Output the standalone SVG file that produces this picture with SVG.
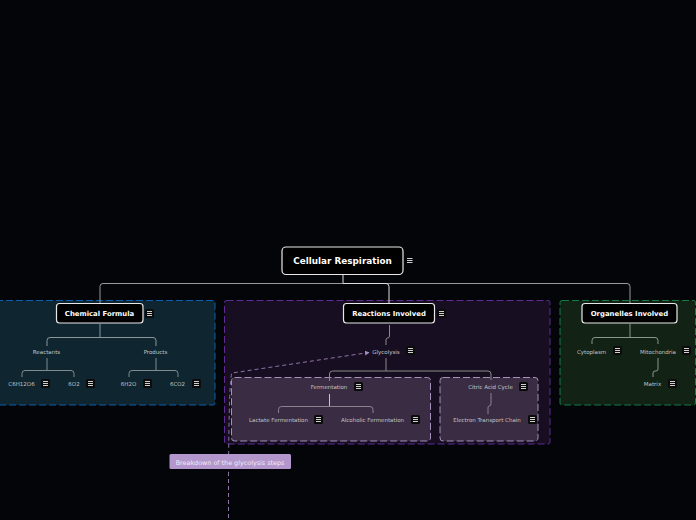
<svg xmlns="http://www.w3.org/2000/svg" width="696" height="520" viewBox="0 0 696 520">
<style>
text{font-family:"DejaVu Sans",Verdana,sans-serif;text-anchor:middle}
.m{fill:#000;stroke:#e8e8e8;stroke-width:1.2}
.mt{font-weight:700;font-size:6.9px;fill:#fff}
.st{font-size:5.5px;fill:#c4c4c4}
.c{fill:none;stroke-width:1}
.ib{fill:#0c0c0c}
.il{stroke:#e6e6e6;stroke-width:.9}
</style>
<defs>
<g id="i"><rect class="ib" x="-4.5" y="-4.5" width="9" height="9" rx="1.5"/><path class="il" d="M-2.500-2H2.500M-2.500 0H2.500M-2.500 2H2.500"/></g>
<marker id="a" markerWidth="6" markerHeight="6" refX="4" refY="2.500" orient="auto" markerUnits="userSpaceOnUse"><path d="M0 0L4.500 2.500L0 5Z" fill="#a98bc0"/></marker>
</defs>
<rect width="696" height="520" fill="#030508"/>
<g id="boundaries">
<rect x="-6" y="300.500" width="221" height="104.500" rx="2" fill="#0f2630" stroke="#0a5fae" stroke-dasharray="7 3"/>
<rect x="224.500" y="300.500" width="325.500" height="143.500" rx="2" fill="#170e22" stroke="#5f2a96" stroke-dasharray="7 3"/>
<rect x="560" y="300.500" width="135.500" height="104.500" rx="2" fill="#122316" stroke="#157a48" stroke-dasharray="7 3"/>
<rect x="231.500" y="377.500" width="199" height="63.500" rx="3" fill="#392c43" stroke="#a78fbc" stroke-dasharray="7 3"/>
<rect x="440" y="377.500" width="98" height="63.500" rx="3" fill="#392c43" stroke="#a78fbc" stroke-dasharray="7 3"/>
</g>
<g id="connectors">
<path class="c" stroke="#9a9a9a" d="M342.500 283.500H103Q100 283.500 100 286.500V304"/>
<path class="c" stroke="#9a9a9a" d="M342.500 283.500H627Q630 283.500 630 286.500V304"/>
<path class="c" stroke="#dcdcdc" stroke-width="1.500" d="M343 274V283.500H386Q389 283.500 389 286.500V303"/>
<path class="c" stroke="#8a969b" d="M100 324V337.500M47 346V340.500Q47 337.500 50 337.500H153Q156 337.500 156 340.500V346"/>
<path class="c" stroke="#7f8b90" d="M47 358V370.500M22 377V373.500Q22 370.500 25 370.500H71Q74 370.500 74 373.500V377"/>
<path class="c" stroke="#7f8b90" d="M156 358V370.500M129 377V373.500Q129 370.500 132 370.500H175Q178 370.500 178 373.500V377"/>
<path class="c" stroke="#8b8b8b" d="M389.500 325V336Q389.500 338 387.500 338Q386 338 386 340V345"/>
<path class="c" stroke="#8b8b8b" d="M386 358V371"/>
<path class="c" stroke="#8b8b8b" d="M329.500 381V374Q329.500 371 332.500 371H488Q491 371 491 374V380"/>
<path class="c" stroke="#c8c8c8" d="M329.500 394V406.500"/>
<path class="c" stroke="#8b8291" d="M278.500 413V409.500Q278.500 406.500 281.500 406.500H370Q373 406.500 373 409.500V413"/>
<path class="c" stroke="#8b8291" d="M491 393V404Q491 406 489 406Q488 406 488 408V414"/>
<path class="c" stroke="#8a968c" d="M630 324V337.500M592 344V340.500Q592 337.500 595 337.500H655Q658 337.500 658 340.500V344"/>
<path class="c" stroke="#8a968c" d="M658 358V369Q658 371 656 371H655Q653 371 653 373V377"/>
<path class="c" stroke="#8f76a6" stroke-dasharray="4 3" d="M228.500 518V476Q229 376 232 373L369 352.500" marker-end="url(#a)"/>
</g>
<g id="root"><rect class="m" x="282" y="247" width="121" height="27.500" rx="4"/><text x="342.500" y="264" font-weight="700" font-size="8.850" fill="#fff">Cellular Respiration</text><path class="il" d="M407 258.500H412.500M407 260.500H412.500M407 262.500H412.500"/></g>
<g id="chem"><rect class="m" x="56.500" y="303.500" width="86.500" height="19.500" rx="3"/><text class="mt" x="99.500" y="316">Chemical Formula</text><use href="#i" x="149.500" y="313.500"/></g>
<g id="reactions"><rect class="m" x="343.500" y="303.500" width="91" height="19.500" rx="3"/><text class="mt" x="389" y="316">Reactions Involved</text><use href="#i" x="441.500" y="313.500"/></g>
<g id="organelles"><rect class="m" x="582" y="303.500" width="95" height="19.500" rx="3"/><text class="mt" x="629.500" y="316">Organelles Involved</text></g>
<g id="reactants"><text class="st" x="46.500" y="353.500">Reactants</text></g>
<g id="products"><text class="st" x="155.500" y="353.500">Products</text></g>
<g id="c6"><text class="st" x="21.500" y="386">C6H12O6</text><use href="#i" x="45.500" y="383.500"/></g>
<g id="o2"><text class="st" x="74" y="386">6O2</text><use href="#i" x="90.500" y="383.500"/></g>
<g id="h2o"><text class="st" x="128.500" y="386">6H2O</text><use href="#i" x="147.500" y="383.500"/></g>
<g id="co2"><text class="st" x="177.500" y="386">6CO2</text><use href="#i" x="196.500" y="383.500"/></g>
<g id="glycolysis"><text class="st" x="386" y="353.500">Glycolysis</text><use href="#i" x="410.500" y="350.500"/></g>
<g id="fermentation"><text class="st" x="329" y="389">Fermentation</text><use href="#i" x="358.500" y="386.500"/></g>
<g id="citric"><text class="st" x="490.500" y="389">Citric Acid Cycle</text><use href="#i" x="523.500" y="386.500"/></g>
<g id="lactate"><text class="st" x="278.500" y="422">Lactate Fermentation</text><use href="#i" x="318.500" y="419.500"/></g>
<g id="alcoholic"><text class="st" x="372.500" y="422">Alcoholic Fermentation</text><use href="#i" x="415.500" y="419.500"/></g>
<g id="etc"><text class="st" x="487" y="422">Electron Transport Chain</text><use href="#i" x="532.500" y="419.500"/></g>
<g id="cytoplasm"><text class="st" x="591.500" y="353.500">Cytoplasm</text><use href="#i" x="617.500" y="350.500"/></g>
<g id="mitochondria"><text class="st" x="658" y="353.500">Mitochondria</text><use href="#i" x="686.500" y="350.500"/></g>
<g id="matrix"><text class="st" x="652.500" y="386">Matrix</text><use href="#i" x="672.500" y="383.500"/></g>
<g id="note"><rect x="169.500" y="454" width="121.500" height="15" rx="1.500" fill="#b397cc"/><text x="230" y="464.500" font-size="6.400" fill="#f2eaf7">Breakdown of the glycolysis steps</text></g>
</svg>
